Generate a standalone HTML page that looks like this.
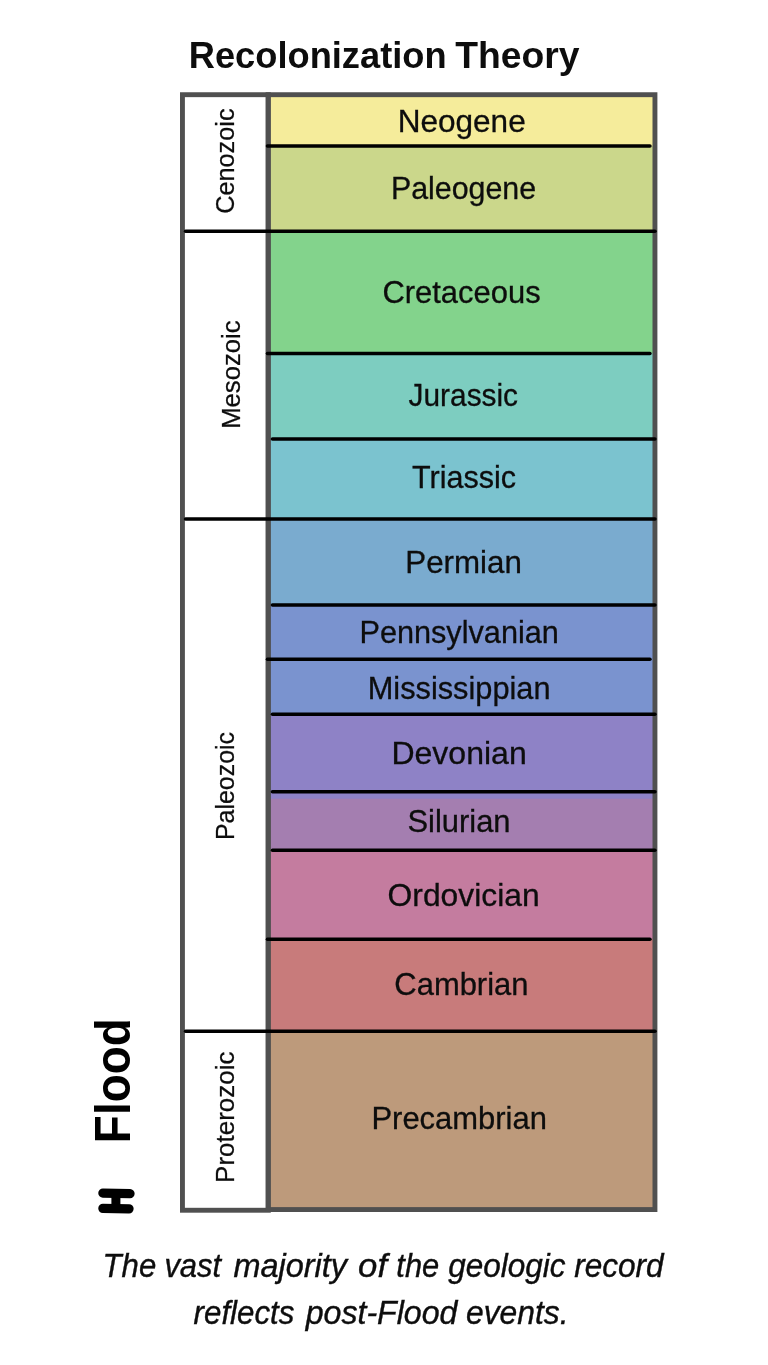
<!DOCTYPE html>
<html lang="en">
<head>
<meta charset="utf-8">
<title>Recolonization Theory</title>
<style>
html,body{margin:0;padding:0;background:#fff;}
body{width:768px;height:1365px;overflow:hidden;}
svg{display:block;}
text{font-family:"Liberation Sans",sans-serif;fill:#0d0d0d;}
.p{font-size:31.5px;stroke:#0d0d0d;stroke-width:0.3px;}
.e{font-size:26.3px;stroke:#0d0d0d;stroke-width:0.25px;}
.t{font-size:37.6px;font-weight:bold;fill:#0d0d0d;}
.f{font-size:50px;font-weight:bold;fill:#000;}
.c{font-size:34px;font-style:italic;stroke:#0d0d0d;stroke-width:0.4px;}
</style>
</head>
<body>
<svg width="768" height="1365" viewBox="0 0 768 1365">
<rect x="0" y="0" width="768" height="1365" fill="#ffffff"/>
<text class="t" y="67.8"><tspan x="188.73" textLength="257.90" lengthAdjust="spacingAndGlyphs">Recolonization</tspan> <tspan x="455.34" textLength="124.26" lengthAdjust="spacingAndGlyphs">Theory</tspan></text>
<rect x="268" y="95" width="387" height="51.5" fill="#f5ec9b"/>
<rect x="268" y="146" width="387" height="85.7" fill="#cbd78b"/>
<rect x="268" y="231.2" width="387" height="122.7" fill="#83d38c"/>
<rect x="268" y="353.4" width="387" height="86.0" fill="#7dcdc0"/>
<rect x="268" y="438.9" width="387" height="80.6" fill="#7bc3cf"/>
<rect x="268" y="519" width="387" height="86.4" fill="#7aabcf"/>
<rect x="268" y="604.9" width="387" height="54.8" fill="#7a93cf"/>
<rect x="268" y="659.2" width="387" height="55.5" fill="#7a93cf"/>
<rect x="268" y="714.2" width="387" height="85.0" fill="#8e82c6"/>
<rect x="268" y="798.7" width="387" height="52.1" fill="#a47eb0"/>
<rect x="268" y="850.3" width="387" height="89.4" fill="#c47c9f"/>
<rect x="268" y="939.2" width="387" height="92.5" fill="#c87b7b"/>
<rect x="268" y="1031.2" width="387" height="179.3" fill="#bd9a7b"/>
<rect x="182.3" y="94.8" width="85.5" height="1115.7" fill="#fff"/>
<rect x="182.45" y="94.7" width="85.9" height="1115.55" fill="none" stroke="#505050" stroke-width="4.9"/>
<rect x="268.05" y="94.7" width="386.9" height="1114.85" fill="none" stroke="#505050" stroke-width="4.9"/>
<line x1="267.45" y1="146" x2="649.95" y2="146" stroke="#000" stroke-width="3.5" stroke-linecap="round"/>
<line x1="267.45" y1="353.4" x2="649.95" y2="353.4" stroke="#000" stroke-width="3.5" stroke-linecap="round"/>
<line x1="272.45" y1="438.9" x2="654.95" y2="438.9" stroke="#000" stroke-width="3.5" stroke-linecap="round"/>
<line x1="272.45" y1="604.9" x2="654.95" y2="604.9" stroke="#000" stroke-width="3.5" stroke-linecap="round"/>
<line x1="267.45" y1="659.2" x2="649.95" y2="659.2" stroke="#000" stroke-width="3.5" stroke-linecap="round"/>
<line x1="272.45" y1="714.2" x2="654.95" y2="714.2" stroke="#000" stroke-width="3.5" stroke-linecap="round"/>
<line x1="272.45" y1="791.7" x2="654.95" y2="791.7" stroke="#000" stroke-width="3.5" stroke-linecap="round"/>
<line x1="272.45" y1="850.3" x2="654.95" y2="850.3" stroke="#000" stroke-width="3.5" stroke-linecap="round"/>
<line x1="267.45" y1="939.2" x2="649.95" y2="939.2" stroke="#000" stroke-width="3.5" stroke-linecap="round"/>
<line x1="185.5" y1="231.2" x2="655" y2="231.2" stroke="#000" stroke-width="3.5" stroke-linecap="round"/>
<line x1="185.5" y1="519" x2="655" y2="519" stroke="#000" stroke-width="3.5" stroke-linecap="round"/>
<line x1="185.5" y1="1031.2" x2="655" y2="1031.2" stroke="#000" stroke-width="3.5" stroke-linecap="round"/>
<text class="p" x="397.72" y="132.00" textLength="127.97" lengthAdjust="spacingAndGlyphs">Neogene</text>
<text class="p" x="390.90" y="198.80" textLength="145.15" lengthAdjust="spacingAndGlyphs">Paleogene</text>
<text class="p" x="382.44" y="302.60" textLength="158.18" lengthAdjust="spacingAndGlyphs">Cretaceous</text>
<text class="p" x="408.59" y="405.70" textLength="109.45" lengthAdjust="spacingAndGlyphs">Jurassic</text>
<text class="p" x="411.99" y="488.20" textLength="104.04" lengthAdjust="spacingAndGlyphs">Triassic</text>
<text class="p" x="405.32" y="572.60" textLength="116.60" lengthAdjust="spacingAndGlyphs">Permian</text>
<text class="p" x="359.44" y="642.60" textLength="199.41" lengthAdjust="spacingAndGlyphs">Pennsylvanian</text>
<text class="p" x="367.75" y="698.80" textLength="182.78" lengthAdjust="spacingAndGlyphs">Mississippian</text>
<text class="p" x="391.44" y="764.15" textLength="135.26" lengthAdjust="spacingAndGlyphs">Devonian</text>
<text class="p" x="407.45" y="832.30" textLength="103.12" lengthAdjust="spacingAndGlyphs">Silurian</text>
<text class="p" x="387.57" y="906.00" textLength="152.11" lengthAdjust="spacingAndGlyphs">Ordovician</text>
<text class="p" x="394.35" y="995.10" textLength="134.10" lengthAdjust="spacingAndGlyphs">Cambrian</text>
<text class="p" x="371.44" y="1128.80" textLength="175.43" lengthAdjust="spacingAndGlyphs">Precambrian</text>
<text class="e" transform="translate(234.00 213.87) rotate(-90)" x="0" y="0" textLength="105.45" lengthAdjust="spacingAndGlyphs">Cenozoic</text>
<text class="e" transform="translate(239.70 428.83) rotate(-90)" x="0" y="0" textLength="108.51" lengthAdjust="spacingAndGlyphs">Mesozoic</text>
<text class="e" transform="translate(234.00 840.09) rotate(-90)" x="0" y="0" textLength="108.18" lengthAdjust="spacingAndGlyphs">Paleozoic</text>
<text class="e" transform="translate(234.00 1182.89) rotate(-90)" x="0" y="0" textLength="131.29" lengthAdjust="spacingAndGlyphs">Proterozoic</text>
<text class="f" transform="translate(130.1 1143.14) rotate(-90)" x="0" y="0" textLength="124.96" lengthAdjust="spacingAndGlyphs">Flood</text>
<g stroke="#000" stroke-linecap="round" fill="none">
<line x1="102.9" y1="1193.1" x2="130.0" y2="1193.7" stroke-width="9.3"/>
<line x1="102.9" y1="1208.4" x2="129.0" y2="1208.8" stroke-width="9.3"/>
<line x1="115.9" y1="1193" x2="115.9" y2="1208.5" stroke-width="9" stroke-linecap="butt"/>
</g>
<text class="c" y="1277.4"><tspan x="102.57" textLength="53.70" lengthAdjust="spacingAndGlyphs">The</tspan> <tspan x="164.38" textLength="56.80" lengthAdjust="spacingAndGlyphs">vast</tspan> <tspan x="233.40" textLength="113.62" lengthAdjust="spacingAndGlyphs">majority</tspan> <tspan x="358.08" textLength="28.95" lengthAdjust="spacingAndGlyphs">of</tspan> <tspan x="396.31" textLength="42.99" lengthAdjust="spacingAndGlyphs">the</tspan> <tspan x="448.20" textLength="117.21" lengthAdjust="spacingAndGlyphs">geologic</tspan> <tspan x="574.20" textLength="89.41" lengthAdjust="spacingAndGlyphs">record</tspan></text>
<text class="c" y="1324.0"><tspan x="193.59" textLength="100.82" lengthAdjust="spacingAndGlyphs">reflects</tspan> <tspan x="305.78" textLength="151.63" lengthAdjust="spacingAndGlyphs">post-Flood</tspan> <tspan x="465.95" textLength="102.64" lengthAdjust="spacingAndGlyphs">events.</tspan></text>
</svg>
</body>
</html>
